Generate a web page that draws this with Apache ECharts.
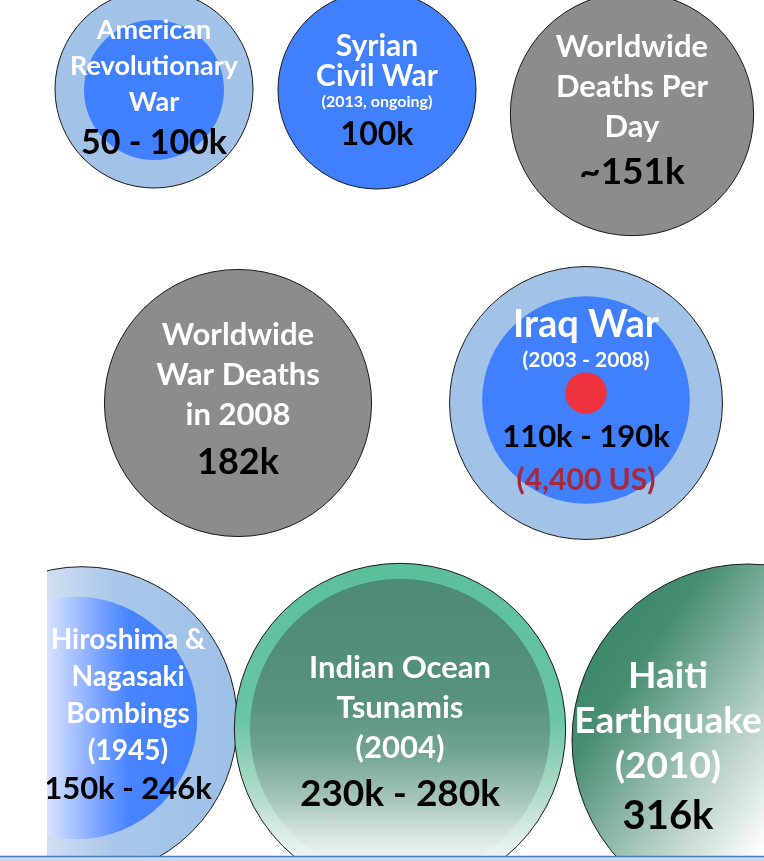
<!DOCTYPE html>
<html>
<head>
<meta charset="utf-8">
<script src="https://cdn.jsdelivr.net/npm/echarts@6/dist/echarts.min.js"></script>
<style>
html,body{margin:0;padding:0;background:#fff;}
#chart{width:764px;height:861px;}
</style>
</head>
<body>
<div id="chart"></div>
<script>
// ---- data (deaths in thousands) ----
const events = ['American Revolutionary War', 'Syrian Civil War', 'Worldwide Deaths Per Day',
  'Worldwide War Deaths in 2008', 'Iraq War', 'Hiroshima & Nagasaki Bombings',
  'Indian Ocean Tsunamis', 'Haiti Earthquake'];
const titleLines = [
  ['American', 'Revolutionary', 'War'],
  ['Syrian', 'Civil War'],
  ['Worldwide', 'Deaths Per', 'Day'],
  ['Worldwide', 'War Deaths', 'in 2008'],
  ['Iraq War'],
  ['Hiroshima &', 'Nagasaki', 'Bombings'],
  ['Indian Ocean', 'Tsunamis'],
  ['Haiti', 'Earthquake']
];
const periodLabels = ['', '(2013, ongoing)', '', '', '(2003 - 2008)', '(1945)', '(2004)', '(2010)'];
const deathsLow  = [50, 100, 151, 182, 110, 150, 230, 316];
const deathsHigh = [100, 100, 151, 182, 190, 246, 280, 316];
const valueLabels = ['50 - 100k', '100k', '~151k', '182k', '110k - 190k', '150k - 246k', '230k - 280k', '316k'];
const usDeaths = 4.4;            // Iraq War, US deaths (thousands)
const usLabel = '(4,400 US)';

// ---- layout (pixel space of the hidden axes) ----
const centerX = [154, 377, 632, 238, 586, 82, 400, 748];
const centerY = [89, 90, 114, 403, 403, 722, 729, 740];
const innerX  = [154, 377, 632, 238, 586, 76, 400, 748];
const innerY  = [90, 90, 114, 403, 400, 718, 729, 740];
const usDotPos = [586, 393];
const K = 9.9; // radius px per sqrt(thousand)

// ---- styles ----
const lg = (x, y, x2, y2, stops) => ({type: 'linear', x, y, x2, y2,
  colorStops: stops.map(s => ({offset: s[0], color: s[1]}))});
const outerFill = [
  '#a2c2e8', '#4080fd', '#8c8c8c', '#8c8c8c', '#a2c2e8',
  lg(0, 0, 1, 0, [[0, '#ffffff'], [0.39, '#d0e0f3'], [0.6, '#aac7ea'], [1, '#9dc0e8']]),
  lg(0, 0, 0, 1, [[0, '#5bbf9b'], [0.47, '#6ac5a4'], [0.71, '#b5dccb'], [0.86, '#e8f4ef'], [1, '#ffffff']]),
  lg(0.136, 0.102, 0.744, 0.528, [[0, '#3b8868'], [0.2, '#468d70'], [0.4, '#76aa96'], [0.6, '#a8c7bb'], [0.8, '#d3e3dc'], [1, '#ffffff']])
];
const innerFill = [
  '#4080fd', null, null, null, '#4080fd',
  lg(0, 0, 1, 0, [[0, '#ffffff'], [0.355, '#e4ebff'], [0.49, '#a8c2ff'], [0.62, '#6e9cff'], [0.72, '#4884ff'], [1, '#4080ff']]),
  lg(0, 0, 0, 1, [[0, '#4d8b74'], [0.4, '#56927c'], [0.57, '#6fa28f'], [0.74, '#a8c8bb'], [0.87, '#dde9e4'], [1, '#ffffff']]),
  null
];
const titleSize = [27, 30, 31, 31, 38, 28, 31, 37];
const titleLH   = [36, 30, 40, 40, 42, 37, 40, 45];
const subSize   = [0, 16, 0, 0, 21, 28, 31, 37];
const subLH     = [0, 22, 0, 0, 28, 37, 40, 45];
const valueSize = [34, 32, 37, 36, 31, 31, 37, 40];
const valueLH   = [46, 44, 50, 54, 44, 38, 52, 56];
const labelOffset = [[0, 0], [0, 4], [0, -2], [0, -1], [0, -0.5], [46, -7.5], [0, 5], [-80, 9]];
const FONT = 'Lato';

function labelFor(i) {
  const lines = titleLines[i].map(t => '{t|' + t + '}');
  if (periodLabels[i]) lines.push('{s|' + periodLabels[i] + '}');
  if (i === 4) lines.push('{sp| }');
  lines.push('{v|' + valueLabels[i] + '}');
  if (i === 4) lines.push('{us|' + usLabel + '}');
  return {
    show: true, position: 'inside', offset: labelOffset[i], opacity: 1,
    formatter: lines.join('\n'),
    rich: {
      t: {fontFamily: FONT, fontWeight: 'bold', fontSize: titleSize[i], lineHeight: titleLH[i], color: '#ffffff', align: 'center'},
      s: {fontFamily: FONT, fontWeight: 'bold', fontSize: subSize[i] || 12, lineHeight: subLH[i] || 12, color: '#ffffff', align: 'center'},
      sp: {fontSize: 10, lineHeight: 41},
      v: {fontFamily: FONT, fontWeight: 'bold', fontSize: valueSize[i], lineHeight: valueLH[i], color: '#000000', align: 'center'},
      us: {fontFamily: FONT, fontWeight: 'bold', fontSize: 30, lineHeight: 42, color: '#a8283c', align: 'center'}
    }
  };
}

const outerData = events.map((n, i) => ({name: n, value: [centerX[i], centerY[i], deathsHigh[i]],
  itemStyle: {color: outerFill[i]}}));
const innerData = [];
events.forEach((n, i) => {
  if (deathsLow[i] < deathsHigh[i]) innerData.push({name: n + ' (low)', value: [innerX[i], innerY[i], deathsLow[i]],
    itemStyle: {color: innerFill[i]}});
});
const labelData = events.map((n, i) => ({name: n, value: [centerX[i], centerY[i]], label: labelFor(i)}));

const chart = echarts.init(document.getElementById('chart'), null, {renderer: 'canvas'});
chart.setOption({
  animation: false,
  backgroundColor: '#ffffff',
  grid: {left: 0, right: 0, top: 0, bottom: 0},
  xAxis: {type: 'value', min: 0, max: 764, show: false},
  yAxis: {type: 'value', min: 0, max: 861, inverse: true, show: false},
  series: [
    {type: 'scatter', name: 'high', silent: true, z: 2, clip: false,
      symbol: 'circle', symbolSize: v => 2 * K * Math.sqrt(v[2]),
      itemStyle: {borderColor: '#1a1a1a', borderWidth: 1, opacity: 1},
      data: outerData},
    {type: 'scatter', name: 'low', silent: true, z: 3, clip: false,
      symbol: 'circle', symbolSize: v => 2 * K * Math.sqrt(v[2]),
      itemStyle: {borderWidth: 0, opacity: 1},
      data: innerData},
    {type: 'scatter', name: 'US deaths', silent: true, z: 4, clip: false,
      symbol: 'circle', symbolSize: v => 2 * K * Math.sqrt(v[2]),
      itemStyle: {color: '#ee333f', opacity: 1},
      data: [{name: 'US deaths', value: [usDotPos[0], usDotPos[1], usDeaths]}]},
    {type: 'scatter', name: 'labels', silent: true, z: 5, clip: false,
      symbol: 'circle', symbolSize: 1,
      itemStyle: {color: 'rgba(0,0,0,0)', opacity: 1},
      data: labelData}
  ],
  graphic: [
    {type: 'rect', z: 100, silent: true, shape: {x: 0, y: 545, width: 47, height: 312}, style: {fill: '#ffffff'}},
    {type: 'rect', z: 100, silent: true, shape: {x: 0, y: 856, width: 764, height: 5}, style: {fill: '#c6d9f1'}},
    {type: 'line', z: 101, silent: true, shape: {x1: 0, y1: 856.5, x2: 764, y2: 856.5}, style: {stroke: '#4a7ebb', lineWidth: 1.5}}
  ]
});
</script>
</body>
</html>
